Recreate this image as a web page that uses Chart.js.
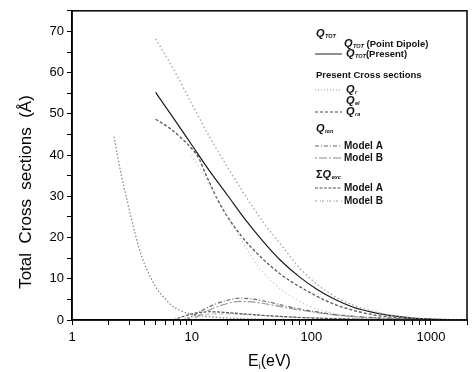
<!DOCTYPE html>
<html>
<head>
<meta charset="utf-8">
<script src="https://cdn.jsdelivr.net/npm/chart.js"></script>
<style>
  html, body { margin: 0; padding: 0; background: #fff; }
  #wrap { width: 474px; height: 372px; }
</style>
</head>
<body>
<div id="wrap"><canvas id="myChart" width="474" height="372"></canvas></div>
<script>
// values: energy E (eV) and cross section Q (Å²)
const xTickLabels = [1, 10, 100, 1000];

const dipoleE = [5, 7, 10, 14, 20, 28, 40, 56, 80, 112, 160, 224, 320, 450, 640, 900, 1300, 2000];
const dipoleQ = [68.2, 61, 52.5, 44.6, 37, 30.2, 23.6, 18.2, 12.6, 8.6, 5.6, 3.6, 2.2, 1.25, 0.65, 0.3, 0.12, 0.04];

const presentE = [5, 7, 10, 14, 20, 28, 40, 56, 80, 112, 160, 224, 320, 450, 640, 900, 1300, 2000];
const presentQ = [55.2, 49.1, 42.5, 36.3, 30.2, 24.4, 18.9, 14.3, 10.4, 7.4, 4.9, 3.1, 1.9, 1.1, 0.58, 0.28, 0.11, 0.04];

const qrE = [2.24, 2.59, 2.94, 3.3, 3.6, 4.06, 4.6, 5.25, 6, 6.76, 8, 9.3, 12, 20, 40, 100];
const qrQ = [44.5, 35, 28, 22, 17.8, 13.4, 10, 7.1, 5.2, 3.6, 2.3, 1.6, 1.0, 0.5, 0.2, 0.05];

const qelE = [10, 12, 16.6, 24.2, 36.8, 57.7, 100, 200, 400, 1000, 2000];
const qelQ = [40, 36.2, 29.1, 20.9, 12.6, 7.1, 3.2, 1.0, 0.3, 0.05, 0.01];

const qraE = [5, 6.5, 8, 10, 11.5, 13, 17.7, 26, 38, 56, 83, 150, 250, 400, 700, 1000, 2000];
const qraQ = [48.7, 46.6, 44.4, 41.6, 39.2, 35.6, 27.5, 20.4, 15.2, 11, 7.8, 4.0, 2.0, 0.9, 0.35, 0.18, 0.04];

const ionAE = [9, 10, 12, 15, 20, 25, 32, 40, 50, 70, 100, 150, 250, 400, 700, 1000, 2000];
const ionAQ = [0, 0.8, 2.2, 3.6, 4.8, 5.3, 5.1, 4.6, 4.0, 3.0, 2.2, 1.4, 0.8, 0.45, 0.2, 0.1, 0.03];

const ionBE = [10, 12, 15, 20, 25, 32, 40, 50, 70, 100, 150, 250, 400, 700, 1000, 2000];
const ionBQ = [0, 1.4, 2.8, 4.0, 4.5, 4.4, 4.0, 3.5, 2.7, 2.0, 1.3, 0.7, 0.4, 0.18, 0.08, 0.02];

const excAE = [7, 8, 10, 14, 20, 24, 30, 45, 70, 100, 200, 400, 1000, 2000];
const excAQ = [0, 0.6, 1.5, 2.0, 1.8, 1.6, 1.4, 1.0, 0.7, 0.5, 0.25, 0.12, 0.05, 0.02];

const excBE = [8, 10, 14, 20, 30, 45, 70, 100, 200, 400, 1000, 2000];
const excBQ = [0, 0.9, 1.4, 1.5, 1.3, 1.0, 0.7, 0.55, 0.3, 0.15, 0.06, 0.02];

const ctx = document.getElementById("myChart");

function pts(xs, ys) {
  return xs.map((x, i) => ({ x: x, y: ys[i] }));
}

function line(label, xs, ys, color, width, dash) {
  return {
    label: label,
    data: pts(xs, ys),
    borderColor: color,
    borderWidth: width,
    borderDash: dash,
    pointRadius: 0,
    fill: false,
    cubicInterpolationMode: "monotone",
  };
}

// Q with subscript, returns drawn width
function drawQ(c, x, y, sub) {
  c.font = "bold italic 11px Arial";
  c.fillText("Q", x, y);
  const w = c.measureText("Q").width + 0.5;
  c.font = "bold italic 5.5px Arial";
  c.fillText(sub, x + w, y + 2.5);
  return w + c.measureText(sub).width;
}

function sample(c, y, color, dash) {
  c.save();
  c.strokeStyle = color;
  c.lineWidth = 1;
  c.setLineDash(dash);
  c.beginPath();
  c.moveTo(315, y);
  c.lineTo(342, y);
  c.stroke();
  c.restore();
}

const extras = {
  id: "extras",
  afterDraw(chart) {
    const c = chart.ctx;
    const a = chart.chartArea;
    c.save();
    // frame
    c.strokeStyle = "#000";
    c.lineWidth = 1.5;
    c.strokeRect(a.left, a.top, a.right - a.left, a.bottom - a.top);

    // y axis title
    c.fillStyle = "#000";
    c.save();
    c.translate(26, 192);
    c.rotate(-Math.PI / 2);
    c.textAlign = "center";
    c.textBaseline = "middle";
    c.font = "17px Arial";
    c.fillText("Total  Cross  sections  (Å)", 0, 0);
    c.restore();

    // x axis title with subscript
    c.textBaseline = "alphabetic";
    c.font = "16px Arial";
    const cx = (a.left + a.right) / 2;
    const wE = c.measureText("E").width;
    const wR = c.measureText("(eV)").width;
    c.font = "9px Arial";
    const wi = c.measureText("i").width;
    let x0 = cx - (wE + wi + wR) / 2;
    c.font = "16px Arial";
    c.fillText("E", x0, 366);
    c.font = "9px Arial";
    c.fillText("i", x0 + wE, 369);
    c.font = "16px Arial";
    c.fillText("(eV)", x0 + wE + wi, 366);

    // legend
    c.textBaseline = "middle";
    c.fillStyle = "#111";
    let w;
    drawQ(c, 316, 34, "TOT");

    w = drawQ(c, 344, 44, "TOT");
    c.font = "bold 9.5px Arial";
    c.fillText(" (Point Dipole)", 344 + w, 44);

    sample(c, 54, "#222", []);
    w = drawQ(c, 346, 54, "TOT");
    c.font = "bold 9.5px Arial";
    c.fillText("(Present)", 346 + w, 54);

    c.font = "bold 9.5px Arial";
    c.fillText("Present Cross sections", 316, 75);

    sample(c, 90, "#999", [1, 2]);
    drawQ(c, 346, 90, "r");
    drawQ(c, 346, 101, "el");
    sample(c, 112, "#444", [3, 2]);
    drawQ(c, 346, 112, "ra");

    drawQ(c, 316, 129, "ion");
    sample(c, 146, "#666", [4, 2, 1, 2]);
    c.font = "bold 10px Arial";
    c.fillText("Model A", 344, 146);
    sample(c, 158, "#888", [2, 2, 8, 2]);
    c.fillText("Model B", 344, 158);

    c.font = "bold 11px Arial";
    c.fillText("\u03A3", 316, 175);
    const ws = c.measureText("\u03A3").width;
    drawQ(c, 316 + ws, 175, "exc");
    sample(c, 188, "#555", [3, 1.5]);
    c.font = "bold 10px Arial";
    c.fillText("Model A", 344, 188);
    sample(c, 201, "#999", [2, 3, 1, 1]);
    c.fillText("Model B", 344, 201);
    c.restore();
  },
};

new Chart(ctx, {
  type: "line",
  data: {
    datasets: [
      line("Q_TOT (Point Dipole)", dipoleE, dipoleQ, "#a8a8a8", 1.4, [1.5, 2.5]),
      line("Q_TOT (Present)", presentE, presentQ, "#1a1a1a", 1.2, []),
      line("Q_r", qrE, qrQ, "#8a8a8a", 1.3, [1.5, 2]),
      line("Q_el", qelE, qelQ, "#bdbdbd", 1.2, [1, 3]),
      line("Q_ra", qraE, qraQ, "#555", 1.3, [3, 2]),
      line("Q_ion Model A", ionAE, ionAQ, "#666", 1.2, [4, 2, 1, 2]),
      line("Q_ion Model B", ionBE, ionBQ, "#999", 1.2, [2, 2, 8, 2]),
      line("ΣQ_exc Model A", excAE, excAQ, "#555", 1.2, [3, 1.5]),
      line("ΣQ_exc Model B", excBE, excBQ, "#aaa", 1.2, [2, 3, 1, 1]),
    ],
  },
  options: {
    responsive: false,
    animation: false,
    layout: { padding: { top: 3, right: 7, left: 0, bottom: 0 } },
    plugins: {
      legend: { display: false },
      tooltip: { enabled: false },
    },
    scales: {
      x: {
        type: "logarithmic",
        min: 1,
        max: 2000,
        afterBuildTicks: (s) => {
          const t = [];
          for (let d = 1; d <= 1000; d *= 10) {
            for (let m = 1; m < 10; m++) {
              if (m * d <= 2000) t.push({ value: m * d });
            }
          }
          s.ticks = t;
        },
        ticks: {
          autoSkip: false,
          maxRotation: 0,
          padding: 5,
          color: "#000",
          font: { family: "Arial", size: 13 },
          callback: (v) => (xTickLabels.includes(v) ? String(v) : ""),
        },
        grid: { drawOnChartArea: false, tickLength: 5, color: "#000" },
        border: { color: "#000", width: 1.5 },
        afterFit: (s) => {
          s.height = 52;
        },
      },
      y: {
        min: 0,
        max: 75,
        ticks: {
          stepSize: 5,
          padding: 3,
          color: "#000",
          font: { family: "Arial", size: 13 },
          callback: (v) => (v % 10 === 0 ? v : ""),
        },
        grid: { drawOnChartArea: false, tickLength: 5, color: "#000" },
        border: { color: "#000", width: 1.5 },
        afterFit: (s) => {
          s.width = 72;
        },
      },
    },
  },
  plugins: [extras],
});
</script>
</body>
</html>
